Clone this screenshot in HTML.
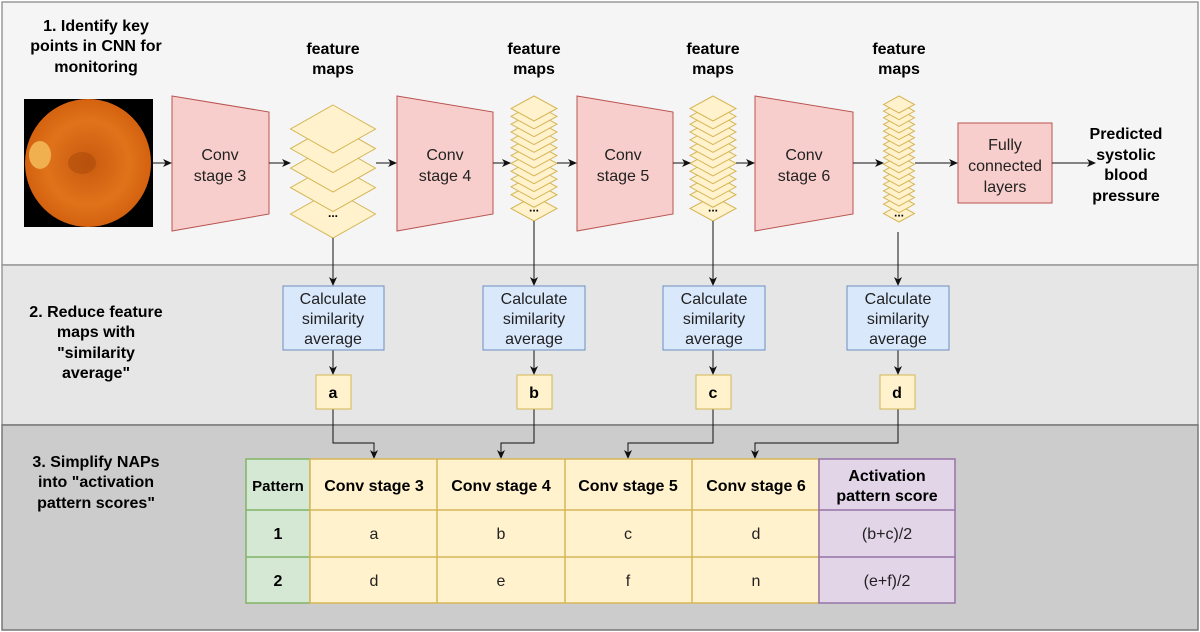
<!DOCTYPE html>
<html><head><meta charset="utf-8"><style>
html,body{margin:0;padding:0;background:#fff}
svg{display:block;font-family:"Liberation Sans",Arial,sans-serif}
.b{font-weight:bold;font-size:16px;fill:#000}
.n{font-size:16px;fill:#222}
</style></head><body>
<svg id="s" width="1200" height="632" viewBox="0 0 1200 632" xmlns="http://www.w3.org/2000/svg">
<defs>
<marker id="ar" markerWidth="10" markerHeight="10" refX="8" refY="4" orient="auto" markerUnits="userSpaceOnUse"><path d="M0,0 L9,4 L0,8 L2.5,4 z" fill="#111"/></marker>
<radialGradient id="eye" cx="0.5" cy="0.5" r="0.55"><stop offset="0" stop-color="#c85a10"/><stop offset="0.6" stop-color="#e0731a"/><stop offset="1" stop-color="#d05c0c"/></radialGradient>
</defs>
<rect x="2" y="2" width="1196" height="263" fill="#f5f5f5" stroke="#999" stroke-width="1.5"/>
<rect x="2" y="265" width="1196" height="160" fill="#e6e6e6" stroke="#999" stroke-width="1.5"/>
<rect x="2" y="425" width="1196" height="205" fill="#cccccc" stroke="#777" stroke-width="1.5"/>

<g text-anchor="middle">
<text class="b" x="96" y="31">1. Identify key</text>
<text class="b" x="96" y="51">points in CNN for</text>
<text class="b" x="96" y="72">monitoring</text>
<text class="b" x="96" y="317">2. Reduce feature</text>
<text class="b" x="96" y="337">maps with</text>
<text class="b" x="96" y="358">"similarity</text>
<text class="b" x="96" y="378">average"</text>
<text class="b" x="96" y="467">3. Simplify NAPs</text>
<text class="b" x="96" y="487">into "activation</text>
<text class="b" x="96" y="508">pattern scores"</text>
<text class="b" x="333" y="54">feature</text><text class="b" x="333" y="74">maps</text>
<text class="b" x="534" y="54">feature</text><text class="b" x="534" y="74">maps</text>
<text class="b" x="713" y="54">feature</text><text class="b" x="713" y="74">maps</text>
<text class="b" x="899" y="54">feature</text><text class="b" x="899" y="74">maps</text>
<text class="b" x="1126" y="139">Predicted</text>
<text class="b" x="1126" y="160">systolic</text>
<text class="b" x="1126" y="180">blood</text>
<text class="b" x="1126" y="201">pressure</text>
</g>

<rect x="24" y="99" width="129" height="128" fill="#000"/>
<ellipse cx="88" cy="163" rx="63" ry="64" fill="url(#eye)"/>
<ellipse cx="40" cy="155" rx="11" ry="14" fill="#f0b050"/>
<ellipse cx="82" cy="163" rx="14" ry="11" fill="#a84808" opacity="0.5"/>

<g fill="#f8cecc" stroke="#b85450" stroke-width="1">
<polygon points="172,96 269,112 269,214 172,231"/>
<polygon points="397,96 493,112 493,214 397,231"/>
<polygon points="577,96 673,112 673,214 577,231"/>
<polygon points="755,96 853,112 853,214 755,231"/>
<rect x="958" y="123" width="94" height="80"/>
</g>
<g text-anchor="middle" class="n">
<text class="n" x="220" y="160">Conv</text><text class="n" x="220" y="181">stage 3</text>
<text class="n" x="445" y="160">Conv</text><text class="n" x="445" y="181">stage 4</text>
<text class="n" x="623" y="160">Conv</text><text class="n" x="623" y="181">stage 5</text>
<text class="n" x="804" y="160">Conv</text><text class="n" x="804" y="181">stage 6</text>
<text class="n" x="1005" y="150">Fully</text><text class="n" x="1005" y="171">connected</text><text class="n" x="1005" y="192">layers</text>
</g>
<g id="fm" fill="#fff2cc" stroke="#d6b656" stroke-width="1"></g>

<g stroke="#111" stroke-width="1" fill="none" marker-end="url(#ar)">
<line x1="153" y1="163" x2="171" y2="163"/>
<line x1="269" y1="163" x2="290" y2="163"/>
<line x1="376" y1="163" x2="396" y2="163"/>
<line x1="493" y1="163" x2="510" y2="163"/>
<line x1="557" y1="163" x2="576" y2="163"/>
<line x1="673" y1="163" x2="690" y2="163"/>
<line x1="736" y1="163" x2="754" y2="163"/>
<line x1="853" y1="163" x2="883" y2="163"/>
<line x1="915" y1="163" x2="957" y2="163"/>
<line x1="1052" y1="163" x2="1095" y2="163"/>
<line x1="333" y1="238" x2="333" y2="285"/>
<line x1="534" y1="221" x2="534" y2="285"/>
<line x1="713" y1="221" x2="713" y2="285"/>
<line x1="898" y1="232" x2="898" y2="285"/>
<line x1="333" y1="350" x2="333" y2="374"/>
<line x1="534" y1="350" x2="534" y2="374"/>
<line x1="713" y1="350" x2="713" y2="374"/>
<line x1="898" y1="350" x2="898" y2="374"/>
<polyline points="333,409 333,443 374,443 374,458"/>
<polyline points="534,409 534,443 501,443 501,458"/>
<polyline points="713,409 713,443 628,443 628,458"/>
<polyline points="898,409 898,443 755,443 755,458"/>
</g>

<g fill="#dae8fc" stroke="#6c8ebf" stroke-width="1">
<rect x="283" y="286" width="101" height="64"/>
<rect x="483" y="286" width="102" height="64"/>
<rect x="663" y="286" width="102" height="64"/>
<rect x="847" y="286" width="102" height="64"/>
</g>
<g text-anchor="middle">
<text class="n" x="333" y="304">Calculate</text><text class="n" x="333" y="324">similarity</text><text class="n" x="333" y="344">average</text>
<text class="n" x="534" y="304">Calculate</text><text class="n" x="534" y="324">similarity</text><text class="n" x="534" y="344">average</text>
<text class="n" x="714" y="304">Calculate</text><text class="n" x="714" y="324">similarity</text><text class="n" x="714" y="344">average</text>
<text class="n" x="898" y="304">Calculate</text><text class="n" x="898" y="324">similarity</text><text class="n" x="898" y="344">average</text>
</g>
<g fill="#fff2cc" stroke="#d6b656" stroke-width="1">
<rect x="316" y="375" width="35" height="34"/>
<rect x="517" y="375" width="35" height="34"/>
<rect x="696" y="375" width="35" height="34"/>
<rect x="880" y="375" width="35" height="34"/>
</g>
<g text-anchor="middle">
<text class="b" x="333" y="398">a</text><text class="b" x="534" y="398">b</text>
<text class="b" x="713" y="398">c</text><text class="b" x="897" y="398">d</text>
</g>

<g stroke-width="1.5">
<rect x="246" y="459" width="64" height="144" fill="#d5e8d4" stroke="#82b366"/>
<line x1="246" y1="510" x2="310" y2="510" stroke="#82b366"/>
<line x1="246" y1="557" x2="310" y2="557" stroke="#82b366"/>
<rect x="310" y="459" width="509" height="144" fill="#fff2cc" stroke="#d6b656"/>
<g stroke="#d6b656"><line x1="437" y1="459" x2="437" y2="603"/><line x1="565" y1="459" x2="565" y2="603"/><line x1="692" y1="459" x2="692" y2="603"/>
<line x1="310" y1="510" x2="819" y2="510"/><line x1="310" y1="557" x2="819" y2="557"/></g>
<rect x="819" y="459" width="136" height="144" fill="#e1d5e7" stroke="#9673a6"/>
<line x1="819" y1="510" x2="955" y2="510" stroke="#9673a6"/>
<line x1="819" y1="557" x2="955" y2="557" stroke="#9673a6"/>
</g>
<g text-anchor="middle">
<text class="b" x="278" y="491" style="font-size:15px">Pattern</text>
<text class="b" x="374" y="491">Conv stage 3</text>
<text class="b" x="501" y="491">Conv stage 4</text>
<text class="b" x="628" y="491">Conv stage 5</text>
<text class="b" x="756" y="491">Conv stage 6</text>
<text class="b" x="887" y="481">Activation</text>
<text class="b" x="887" y="501">pattern score</text>
<text class="b" x="278" y="539">1</text><text class="b" x="278" y="586">2</text>
<text class="n" x="374" y="539">a</text><text class="n" x="501" y="539">b</text><text class="n" x="628" y="539">c</text><text class="n" x="756" y="539">d</text>
<text class="n" x="887" y="539">(b+c)/2</text>
<text class="n" x="374" y="586">d</text><text class="n" x="501" y="586">e</text><text class="n" x="628" y="586">f</text><text class="n" x="756" y="586">n</text>
<text class="n" x="887" y="586">(e+f)/2</text>
</g>
</svg>
<script>
var g=document.getElementById('fm'),ns='http://www.w3.org/2000/svg';
function d(cx,top,w,h,dots){var p=document.createElementNS(ns,'polygon');
p.setAttribute('points',cx+','+top+' '+(cx+w/2)+','+(top+h/2)+' '+cx+','+(top+h)+' '+(cx-w/2)+','+(top+h/2));
g.appendChild(p);if(dots){var t=document.createElementNS(ns,'text');t.setAttribute('x',cx);t.setAttribute('y',top+h/2+3);t.setAttribute('text-anchor','middle');t.setAttribute('font-size','12');t.setAttribute('font-weight','bold');t.setAttribute('stroke','none');t.setAttribute('fill','#000');t.textContent='...';g.appendChild(t);}}
function stack2(cx,w,h,n,lastTop,top){
 d(cx,lastTop,w,h,true);var step=(lastTop-top-h*0.55)/(n-1);for(var i=n-1;i>=0;i--)d(cx,top+i*step,w,h,false);}
stack2(333,85,48,4,190,105);
stack2(534,46,25,12,196,96);
stack2(713,46,25,12,196,96);
stack2(899,31,17,16,205,96);
</script>
</body></html>
